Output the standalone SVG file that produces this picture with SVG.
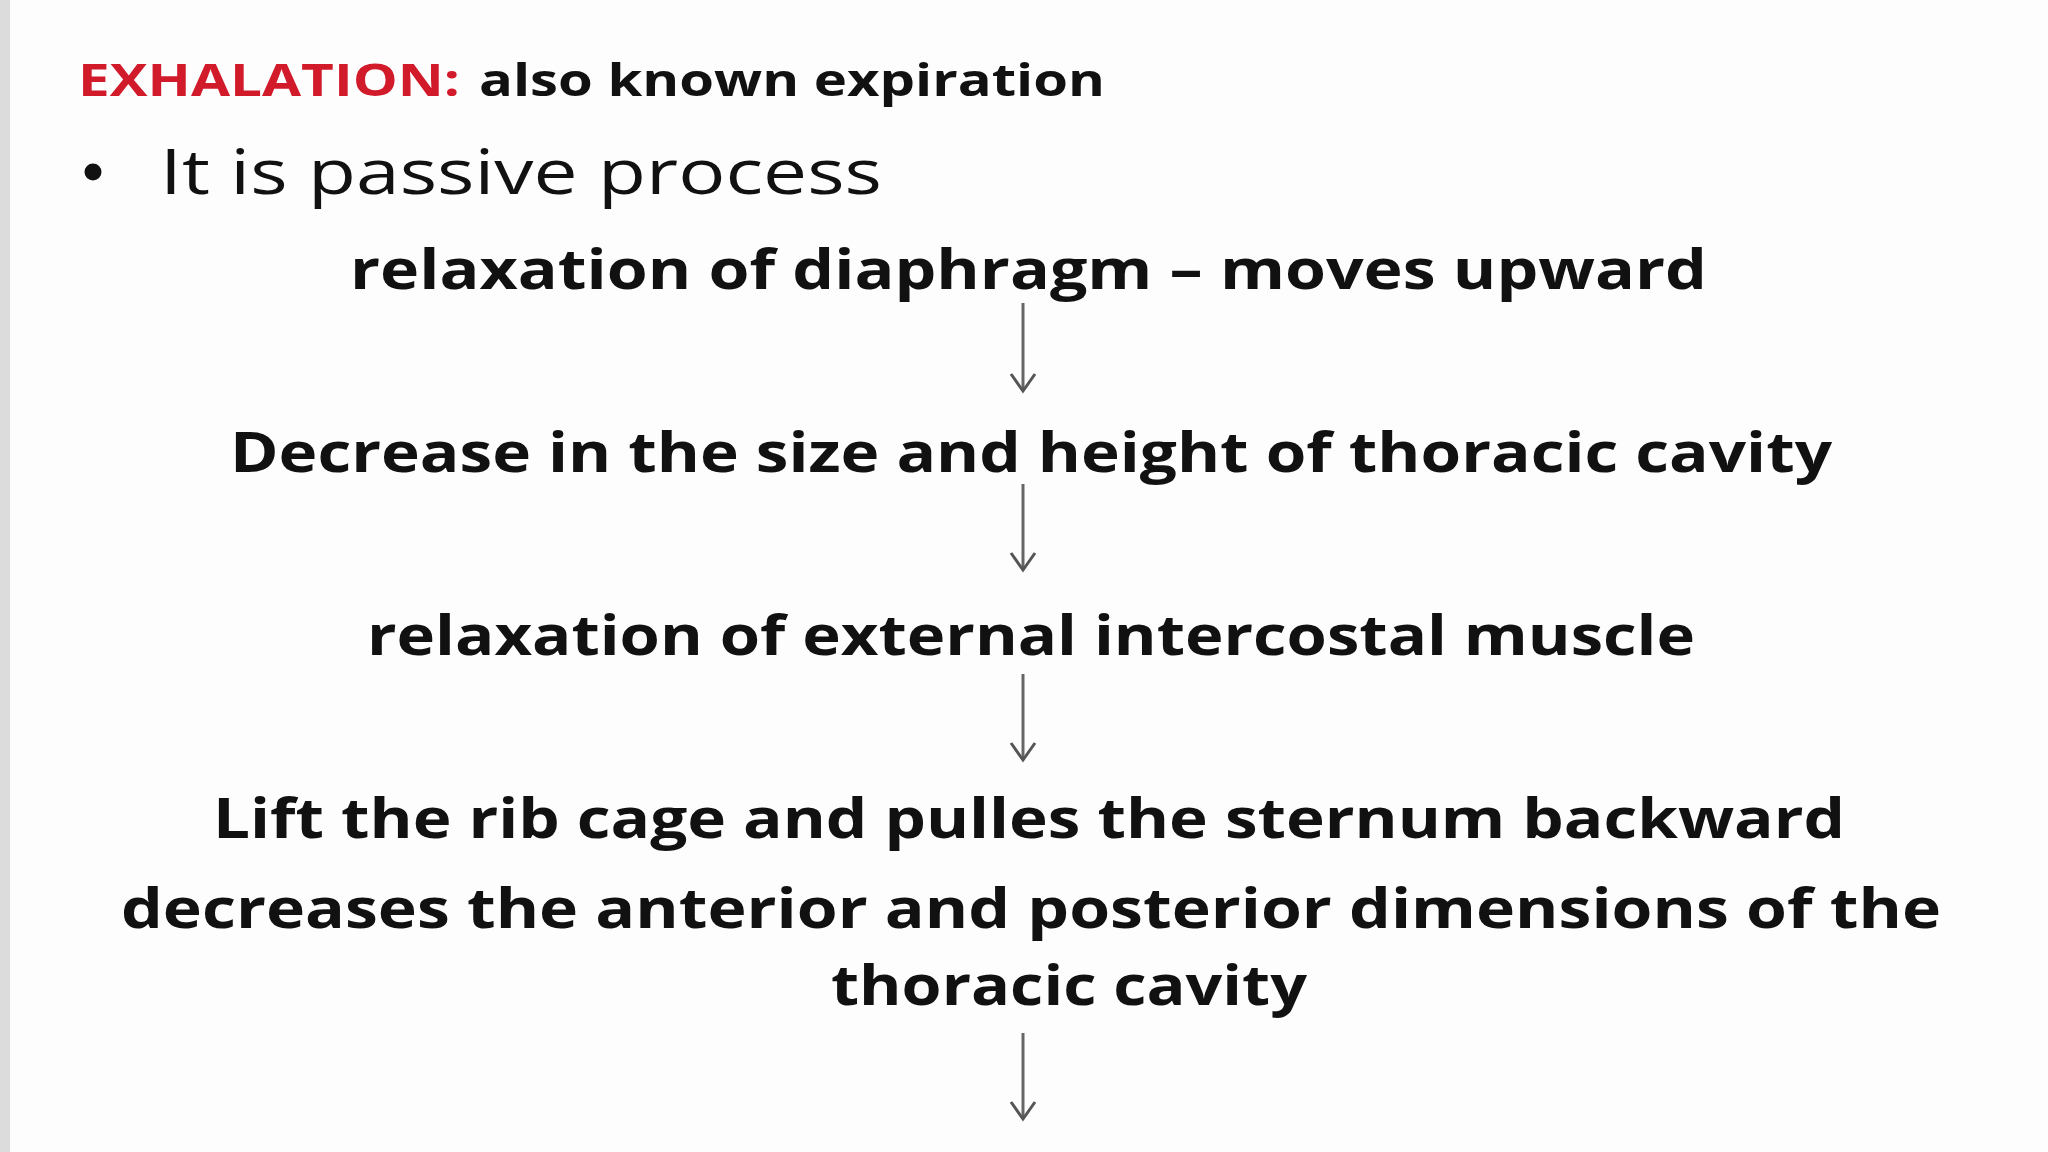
<svg xmlns="http://www.w3.org/2000/svg" width="2048" height="1152" viewBox="0 0 2048 1152">
  <defs>
    <style>
      .step { font-family: "Open Sans", "Noto Sans", "Liberation Sans", sans-serif; font-weight: 700; font-size: 56px; fill: #111111; }
      .title { font-family: "Open Sans", "Noto Sans", "Liberation Sans", sans-serif; font-weight: 700; font-size: 44px; }
      .bullet { font-family: "Open Sans", "Noto Sans", "Liberation Sans", sans-serif; font-weight: 400; font-size: 63px; fill: #111111; }
      .conn { stroke: #666666; stroke-width: 3; fill: none; }
    </style>
    <marker id="arrow" markerUnits="userSpaceOnUse" markerWidth="40" markerHeight="40" refX="0" refY="0" orient="auto" overflow="visible">
      <path d="M-17,-12 L0,0 L-17,12" fill="none" stroke="#555555" stroke-width="3" stroke-linejoin="miter"/>
    </marker>
  </defs>
  <rect x="0" y="0" width="2048" height="1152" fill="#fefdfe"/>
  <rect x="0" y="0" width="10" height="1152" fill="#dcdcdc"/>

  <g id="title">
    <text class="title" x="78" y="96" fill="#d11a2a" textLength="382" lengthAdjust="spacingAndGlyphs">EXHALATION:</text>
    <text class="title" x="479" y="96" fill="#111111" textLength="626" lengthAdjust="spacingAndGlyphs">also known expiration</text>
  </g>
  <g id="bullet-point">
    <circle cx="93" cy="172" r="8.5" fill="#111111"/>
    <text class="bullet" x="160" y="194" textLength="722" lengthAdjust="spacingAndGlyphs">It is passive process</text>
  </g>
  <g id="step1">
    <text class="step" x="350" y="289" textLength="1357" lengthAdjust="spacingAndGlyphs">relaxation of diaphragm – moves upward</text>
  </g>
  <g id="step2">
    <text class="step" x="230" y="472" textLength="1602" lengthAdjust="spacingAndGlyphs">Decrease in the size and height of thoracic cavity</text>
  </g>
  <g id="step3">
    <text class="step" x="367" y="655" textLength="1328" lengthAdjust="spacingAndGlyphs">relaxation of external intercostal muscle</text>
  </g>
  <g id="step4">
    <text class="step" x="213" y="838" textLength="1632" lengthAdjust="spacingAndGlyphs">Lift the rib cage and pulles the sternum backward</text>
    <text class="step" x="121" y="928" textLength="1820" lengthAdjust="spacingAndGlyphs">decreases the anterior and posterior dimensions of the</text>
    <text class="step" x="831" y="1005" textLength="476" lengthAdjust="spacingAndGlyphs">thoracic cavity</text>
  </g>

  <g id="connectors">
    <line class="conn" x1="1023" y1="303" x2="1023" y2="391" marker-end="url(#arrow)"/>
    <line class="conn" x1="1023" y1="484" x2="1023" y2="570" marker-end="url(#arrow)"/>
    <line class="conn" x1="1023" y1="674" x2="1023" y2="760" marker-end="url(#arrow)"/>
    <line class="conn" x1="1023" y1="1033" x2="1023" y2="1119" marker-end="url(#arrow)"/>
  </g>
</svg>
